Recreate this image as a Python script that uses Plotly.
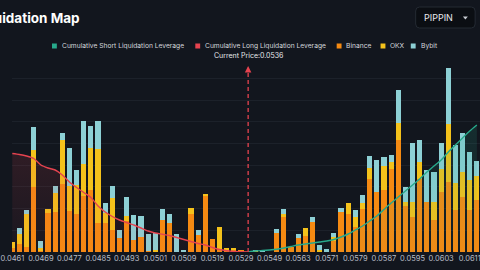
import plotly.graph_objects as go

# ---------------- data ----------------
PRICES = [
    "0.0461", "0.0463", "0.0465", "0.0467", "0.0469", "0.0471", "0.0473", "0.0475",
    "0.0477", "0.0479", "0.0481", "0.0483", "0.0485", "0.0487", "0.0489", "0.0491",
    "0.0493", "0.0495", "0.0497", "0.0499", "0.0501", "0.0503", "0.0505", "0.0507",
    "0.0509", "0.0512", "0.0514", "0.0517", "0.0519", "0.0521", "0.0524", "0.0526",
    "0.0529", "0.0536", "0.0540", "0.0545", "0.0549", "0.0552", "0.0556", "0.0559",
    "0.0563", "0.0565", "0.0567", "0.0569", "0.0571", "0.0573", "0.0575", "0.0577",
    "0.0579", "0.0581", "0.0583", "0.0585", "0.0587", "0.0589", "0.0591", "0.0593",
    "0.0595", "0.0597", "0.0599", "0.0601", "0.0603", "0.0605", "0.0607", "0.0609",
    "0.0611", "0.0613",
]
TICK_LABELS = ["0.0461", "0.0469", "0.0477", "0.0485", "0.0493", "0.0501", "0.0509",
               "0.0519", "0.0529", "0.0549", "0.0563", "0.0571", "0.0579", "0.0587",
               "0.0595", "0.0603", "0.0611"]
CURRENT_PRICE = "0.0536"

BINANCE = [4, 8, 5, 65, 1, 39, 40, 68, 41, 38, 56, 62, 29, 29, 22, 14, 31, 12, 15, 1,
           0, 32, 29, 0, 0, 38, 17, 56, 13, 3, 2, 2, 1.5, 0, 0, 0, 0, 19.5, 35, 5.5,
           14, 16, 30, 0, 0, 11.5, 40.5, 38.5, 25, 43.5, 73, 60, 62, 83, 112, 46, 35, 73,
           50, 32, 60, 70, 42, 55, 42, 52]
OKX = [6, 10, 33, 37, 3, 4, 19, 44, 25, 29, 32, 42, 74, 10, 32, 0, 5, 0, 0, 0,
       2, 0, 0, 0, 0, 6, 0, 2, 0, 22, 1.5, 2, 0, 0, 1, 0, 0, 0, 3.5, 0,
       0, 8.5, 0, 2.5, 0, 4, 0, 11, 10, 6, 11, 0, 24, 7, 17, 4, 15, 17,
       0, 18, 23, 58, 27, 25, 30, 24]
BYBIT = [0, 6, 4, 23, 7, 0, 7, 7, 38, 15, 43, 22, 28, 10, 12, 8, 19, 25, 21, 17,
         17, 11, 9, 18, 2.5, 0, 5, 0, 0, 0, 0, 0, 0, 0, 0.5, 2.5, 0, 4, 5, 0,
         4, 0, 5, 4.5, 3.5, 3.5, 4, 0, 7, 7.5, 12, 32.5, 9, 7, 33, 15, 59, 22,
         32, 30, 26, 56, 38, 39, 28, 15]

LONG_CUM = [98.5, 97.5, 96, 93.5, 87, 84, 82, 77, 70, 64.5, 59.5, 54.5, 46, 40, 35.5,
            32, 29.5, 27, 24, 21, 19, 17.8, 16.5, 14.5, 12.5, 10.5, 8.5, 7, 4.5, 2.5,
            1.3, 0.5, 0.2, 0]
SHORT_CUM = [0, 1, 1.5, 2, 2.7, 4, 5.5, 7, 8, 9, 10, 11, 12.5, 15, 18, 22, 26, 31, 36,
             42.5, 49, 55, 61, 67, 73, 80, 86, 92, 100, 107, 114, 121, 127]

SERIES_NAMES = ["Cumulative Short Liquidation Leverage", "Cumulative Long Liquidation Leverage",
                "Binance", "OKX", "Bybit"]
TITLE = "Liquidation Map"
SYMBOL = "PIPPIN"

# ---------------- style ----------------
W, H = 480, 270
PLOT_TOP, PLOT_BOTTOM = 66, 252
BG = "#12161e"
C_SHORT = "#27a98b"
C_LONG = "#e5434f"
C_BINANCE = "#f58a12"
C_OKX = "#f4c21b"
C_BYBIT = "#8dd0d5"
TXT = "#d4d7dd"


def pxx(x):
    return x / W


def pxy(y):
    return (PLOT_BOTTOM - y) / (PLOT_BOTTOM - PLOT_TOP)


fig = go.Figure()

long_x = PRICES[:PRICES.index(CURRENT_PRICE) + 1]
short_x = PRICES[PRICES.index(CURRENT_PRICE):]

fig.add_trace(go.Scatter(
    x=long_x, y=LONG_CUM, mode="lines", line=dict(color=C_LONG, width=1.4, shape="spline", smoothing=0.6),
    fill="tozeroy",
    fillgradient=dict(type="vertical", colorscale=[[0, "rgba(229,67,79,0.03)"], [1, "rgba(229,67,79,0.14)"]]),
    showlegend=False, hoverinfo="skip"))
fig.add_trace(go.Scatter(
    x=short_x, y=SHORT_CUM, mode="lines", line=dict(color=C_SHORT, width=1.4, shape="spline", smoothing=0.6),
    fill="tozeroy",
    fillgradient=dict(type="vertical", colorscale=[[0, "rgba(39,169,139,0.03)"], [1, "rgba(39,169,139,0.16)"]]),
    showlegend=False, hoverinfo="skip"))

for name, vals, col in [("Binance", BINANCE, C_BINANCE), ("OKX", OKX, C_OKX), ("Bybit", BYBIT, C_BYBIT)]:
    fig.add_trace(go.Bar(x=PRICES, y=vals, name=name, marker=dict(color=col, line=dict(width=0)),
                         showlegend=False))

cur_idx = PRICES.index(CURRENT_PRICE)

shapes = [
    dict(type="line", xref="x", yref="paper", x0=cur_idx, x1=cur_idx, y0=0, y1=0.985,
         line=dict(color=C_LONG, width=1.3, dash="4px,3px"), layer="above"),
]
annotations = [
    dict(xref="x", yref="paper", x=cur_idx, y=1.0, ax=0, ay=7, showarrow=True, text="",
         arrowhead=2, arrowsize=1, arrowwidth=1.3, arrowcolor=C_LONG),
    dict(xref="x", yref="paper", x=cur_idx, y=pxy(55), text="Current Price:" + CURRENT_PRICE,
         showarrow=False, font=dict(size=7, color="#e6e8ec", family="Inter"), xanchor="center", yanchor="middle"),
    dict(xref="paper", yref="paper", x=pxx(72), y=pxy(18), text="<b>" + TITLE + "</b>", showarrow=False,
         xanchor="right", yanchor="middle", font=dict(size=13.5, color="#ffffff", family="Inter")),
]

# custom legend
legend_colors = [C_SHORT, C_LONG, C_BINANCE, C_OKX, C_BYBIT]
legend_px = [41, 188, 333, 378, 409]
for name, col, lx in zip(SERIES_NAMES, legend_colors, legend_px):
    shapes.append(dict(type="rect", xref="paper", yref="paper", x0=pxx(lx), x1=pxx(lx + 5),
                       y0=pxy(48.5), y1=pxy(43.5), fillcolor=col, line=dict(width=0)))
    annotations.append(dict(xref="paper", yref="paper", x=pxx(lx + 8), y=pxy(46), text=name, showarrow=False,
                            xanchor="left", yanchor="middle", font=dict(size=6.7, color=TXT, family="Inter")))

# symbol selector box
bx0, bx1, by0, by1, r = 414, 475, 7, 28, 4
path = (f"M {pxx(bx0 + r)} {pxy(by0)} L {pxx(bx1 - r)} {pxy(by0)} Q {pxx(bx1)} {pxy(by0)} {pxx(bx1)} {pxy(by0 + r)} "
        f"L {pxx(bx1)} {pxy(by1 - r)} Q {pxx(bx1)} {pxy(by1)} {pxx(bx1 - r)} {pxy(by1)} "
        f"L {pxx(bx0 + r)} {pxy(by1)} Q {pxx(bx0)} {pxy(by1)} {pxx(bx0)} {pxy(by1 - r)} "
        f"L {pxx(bx0)} {pxy(by0 + r)} Q {pxx(bx0)} {pxy(by0)} {pxx(bx0 + r)} {pxy(by0)} Z")
shapes.append(dict(type="path", xref="paper", yref="paper", path=path, fillcolor="#0b0e13",
                   line=dict(color="#242a33", width=1)))
tri = f"M {pxx(462.5)} {pxy(16.5)} L {pxx(467.5)} {pxy(16.5)} L {pxx(465)} {pxy(19.5)} Z"
shapes.append(dict(type="path", xref="paper", yref="paper", path=tri, fillcolor="#c8ccd2", line=dict(width=0)))
annotations.append(dict(xref="paper", yref="paper", x=pxx(421), y=pxy(17.5), text=SYMBOL, showarrow=False,
                        xanchor="left", yanchor="middle", font=dict(size=9, color="#e8eaee", family="Inter")))

fig.update_layout(
    width=W, height=H,
    margin=dict(l=0, r=0, t=PLOT_TOP, b=H - PLOT_BOTTOM, pad=0),
    paper_bgcolor=BG, plot_bgcolor=BG,
    barmode="stack", bargap=0.28,
    showlegend=False,
    shapes=shapes, annotations=annotations,
    font=dict(family="Inter", color=TXT),
    xaxis=dict(type="category", categoryorder="array", categoryarray=PRICES,
               range=[-0.04, 65.44], tickmode="array", tickvals=TICK_LABELS, ticktext=TICK_LABELS,
               showgrid=False, zeroline=False, showline=False, ticks="",
               tickfont=dict(size=7.5, color="#b8bdc6", family="Inter")),
    yaxis=dict(range=[0, 186], tick0=0, dtick=21.7, showticklabels=False, zeroline=False,
               showgrid=True, gridcolor="#1c212a", gridwidth=1, fixedrange=True),
)

fig.write_html("out.html")
